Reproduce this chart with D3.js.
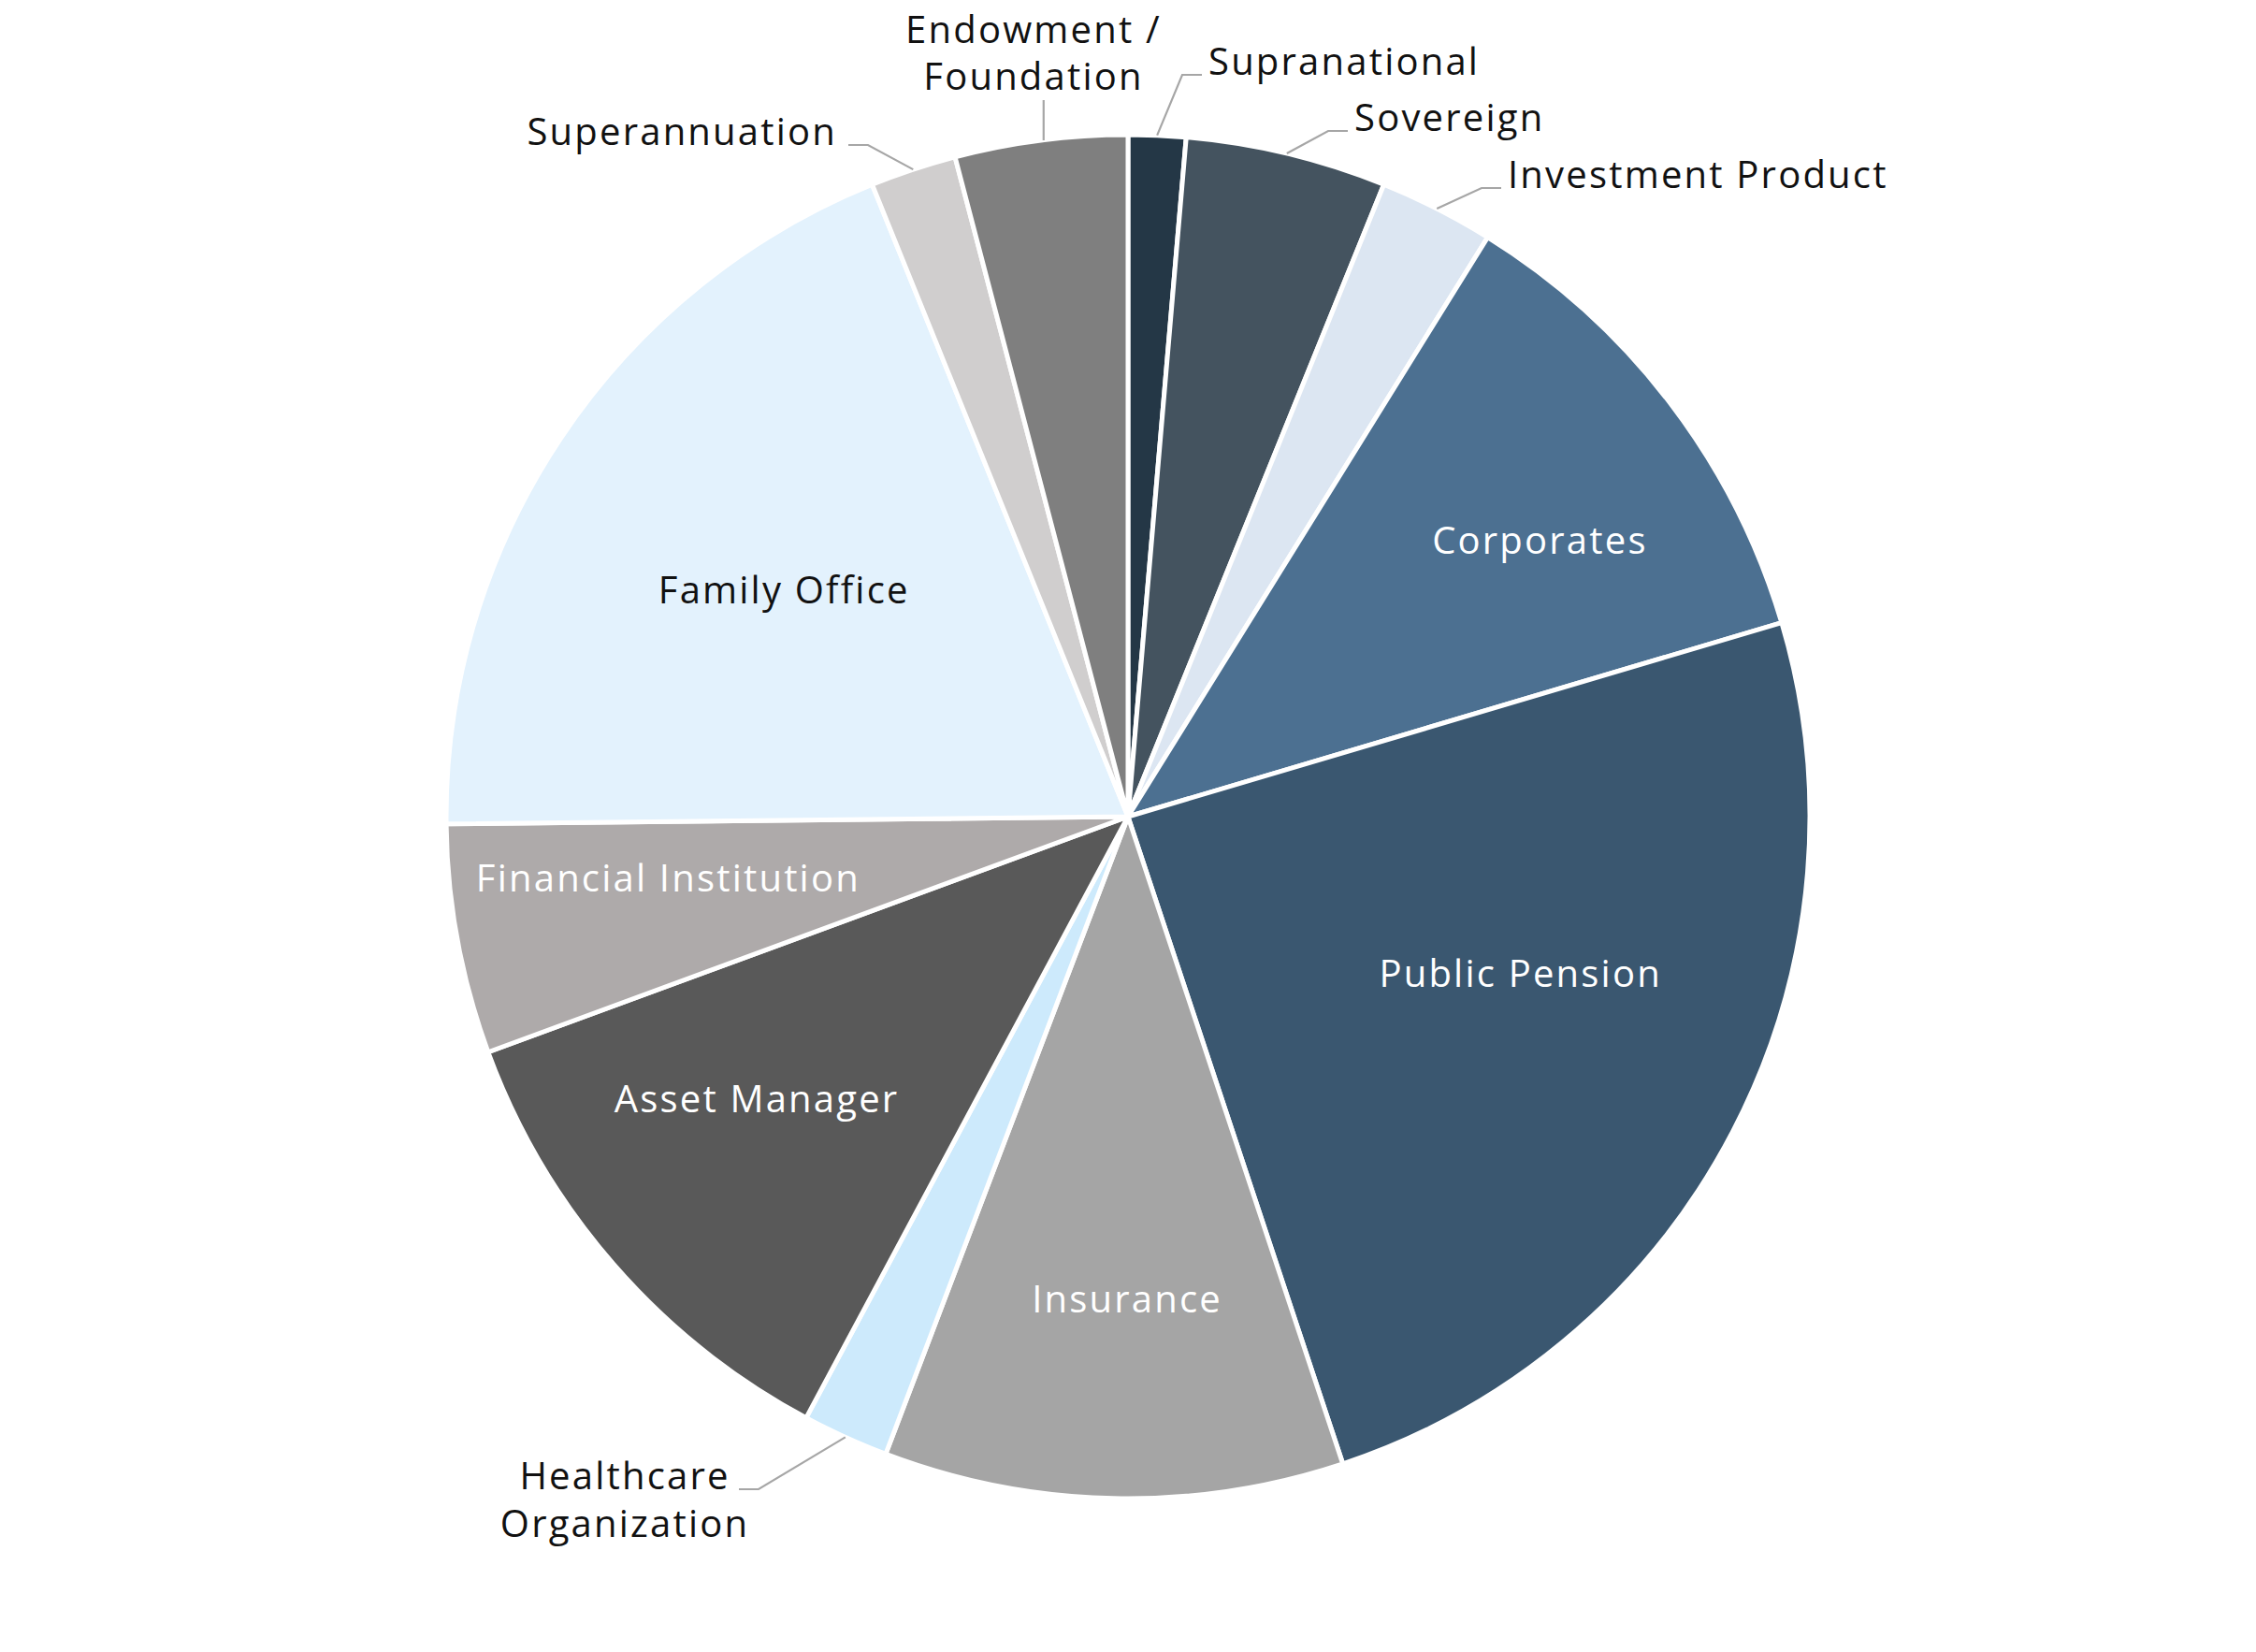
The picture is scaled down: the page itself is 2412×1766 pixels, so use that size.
<!DOCTYPE html>
<html>
<head>
<meta charset="utf-8">
<script src="https://cdnjs.cloudflare.com/ajax/libs/d3/7.8.5/d3.min.js"></script>
<style>
  html, body { margin: 0; padding: 0; background: #ffffff; }
  svg { display: block; }
  text { font-family: "Open Sans", "Noto Sans", sans-serif; font-weight: 400; }
</style>
</head>
<body>
<svg id="chart" width="2412" height="1766"></svg>
<script>
// ---- data ----
const categories = [
  "Supranational", "Sovereign", "Investment Product", "Corporates",
  "Public Pension", "Insurance", "Healthcare Organization", "Asset Manager",
  "Financial Institution", "Family Office", "Superannuation", "Endowment / Foundation"
];
const counts = [2, 7, 4, 17, 36, 16, 3, 17, 8, 28, 3, 6];
const sliceColors = [
  "#243746", "#44535f", "#dce6f2", "#4c7091",
  "#3a5770", "#a5a5a5", "#cdeafc", "#595959",
  "#aeaaaa", "#e3f2fd", "#d0cece", "#7f7f7f"
];
const labelLines = [
  ["Supranational"], ["Sovereign"], ["Investment Product"], ["Corporates"],
  ["Public Pension"], ["Insurance"], ["Healthcare", "Organization"], ["Asset Manager"],
  ["Financial Institution"], ["Family Office"], ["Superannuation"], ["Endowment /", "Foundation"]
];

// ---- layout ----
const W = 2412, H = 1766;
const cx = 1206, cy = 873, R = 729;
const fontSize = 40, letterSpacing = 2.2, lineGap = 50;

// inside labels: polar position (degrees clockwise from 12 o'clock, radius px), text colour
const insideLayout = {
  "Corporates":            { ang: 56.2,  r: 530, fill: "#ffffff" },
  "Public Pension":        { ang: 111.8, r: 452, fill: "#ffffff" },
  "Insurance":             { ang: 180.1, r: 516, fill: "#ffffff" },
  "Asset Manager":         { ang: 232.7, r: 499, fill: "#ffffff" },
  "Financial Institution": { ang: 262.4, r: 496, fill: "#ffffff" },
  "Family Office":         { ang: 303.3, r: 440, fill: "#111111" }
};
// outside labels: elbow point relative to centre, direction of the horizontal tail
const outsideLayout = {
  "Supranational":          { elbow: [58, -793],  dir: 1 },
  "Sovereign":              { elbow: [214, -733], dir: 1 },
  "Investment Product":     { elbow: [378, -672], dir: 1 },
  "Superannuation":         { elbow: [-278, -718], dir: -1 },
  "Healthcare Organization":{ elbow: [-395, 719], dir: -1, center: -538 },
  "Endowment / Foundation": { vertical: -766, center: -101 }
};

const svg = d3.select("#chart");
const g = svg.append("g").attr("transform", `translate(${cx},${cy})`);

const pie = d3.pie().sort(null).value(d => d.value).startAngle(0).endAngle(2 * Math.PI);
const data = categories.map((c, i) => ({ name: c, value: counts[i], color: sliceColors[i], lines: labelLines[i] }));
const arcs = pie(data);
const arc = d3.arc().innerRadius(0).outerRadius(R);

g.selectAll("path.slice")
  .data(arcs)
  .join("path")
  .attr("class", "slice")
  .attr("d", arc)
  .attr("fill", d => d.data.color)
  .attr("stroke", "#ffffff")
  .attr("stroke-width", 5)
  .attr("stroke-linejoin", "round");

// inside labels
const rad = a => a * Math.PI / 180;
arcs.filter(d => insideLayout[d.data.name]).forEach(d => {
  const L = insideLayout[d.data.name];
  const x = L.r * Math.sin(rad(L.ang));
  const y = -L.r * Math.cos(rad(L.ang));
  g.append("text")
    .attr("x", x).attr("y", y + 14)
    .attr("text-anchor", "middle")
    .attr("font-size", fontSize)
    .attr("letter-spacing", letterSpacing)
    .attr("fill", L.fill)
    .text(d.data.lines[0]);
});

// outside labels with leader lines
arcs.filter(d => outsideLayout[d.data.name]).forEach(d => {
  const L = outsideLayout[d.data.name];
  const mid = (d.startAngle + d.endAngle) / 2;
  const sx = R * Math.sin(mid), sy = -R * Math.cos(mid);
  if (L.vertical !== undefined) {
    g.append("path")
      .attr("d", `M${sx + 3},${sy}L${sx + 3},${L.vertical}`)
      .attr("fill", "none").attr("stroke", "#a6a6a6").attr("stroke-width", 2.2);
    const t = g.append("text")
      .attr("text-anchor", "middle")
      .attr("font-size", fontSize)
      .attr("letter-spacing", letterSpacing)
      .attr("fill", "#111111");
    d.data.lines.forEach((ln, i) => {
      t.append("tspan").attr("x", L.center).attr("y", L.vertical - 61 + (i - (d.data.lines.length - 1)) * lineGap + lineGap).text(ln);
    });
    return;
  }
  const [ex, ey] = L.elbow;
  const tx = ex + 21 * L.dir;
  g.append("path")
    .attr("d", `M${sx},${sy}L${ex},${ey}L${tx},${ey}`)
    .attr("fill", "none").attr("stroke", "#a6a6a6").attr("stroke-width", 2.2);
  const t = g.append("text")
    .attr("font-size", fontSize)
    .attr("letter-spacing", letterSpacing)
    .attr("fill", "#111111");
  if (d.data.lines.length === 1) {
    t.attr("text-anchor", L.dir > 0 ? "start" : "end")
      .attr("x", tx + (L.dir > 0 ? 7 : -12))
      .attr("y", ey)
      .text(d.data.lines[0]);
  } else {
    t.attr("text-anchor", "middle");
    d.data.lines.forEach((ln, i) => {
      t.append("tspan").attr("x", L.center).attr("y", ey + i * 51).text(ln);
    });
  }
});
</script>
</body>
</html>
